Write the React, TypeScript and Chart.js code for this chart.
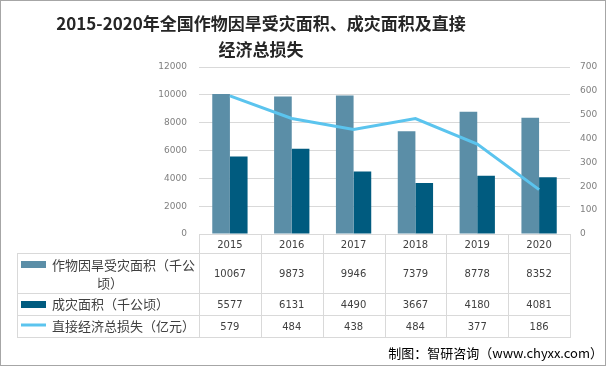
import React, { useEffect, useRef } from "react";
import { Chart, registerables } from "chart.js";
Chart.register(...registerables);

const years = ["2015", "2016", "2017", "2018", "2019", "2020"];
const droughtArea = [10067, 9873, 9946, 7379, 8778, 8352];
const disasterArea = [5577, 6131, 4490, 3667, 4180, 4081];
const economicLoss = [579, 484, 438, 484, 377, 186];
const seriesNames = ["作物因旱受灾面积（千公顷）", "成灾面积（千公顷）", "直接经济总损失（亿元）"];
const titleLines = ["2015-2020年全国作物因旱受灾面积、成灾面积及直接", "经济总损失"];
const sourceText = "制图：智研咨询（www.chyxx.com）";

const C_BAR1 = "#5B8EA7";
const C_BAR2 = "#005B7F";
const C_LINE = "#5BC4EE";
const GRID = "#D9D9D9";
const CJK = "'Noto Sans CJK SC', sans-serif";
const NUM = "'DejaVu Sans', sans-serif";

const overlay = {
  id: "overlay",
  beforeDraw(chart: any) {
    const ctx = chart.ctx;
    ctx.save();
    ctx.fillStyle = "#ffffff";
    ctx.fillRect(0, 0, chart.width, chart.height);
    ctx.restore();
  },
  afterDraw(chart: any) {
    const ctx = chart.ctx;
    const area = chart.chartArea;
    const xs = chart.scales.x;
    const n = years.length;
    const colW = (area.right - area.left) / n;
    ctx.save();
    // title
    ctx.fillStyle = "#262626";
    ctx.font = "bold 17px " + CJK;
    ctx.textAlign = "center";
    ctx.textBaseline = "middle";
    ctx.fillText(titleLines[0], 261, 24);
    ctx.fillText(titleLines[1], 261, 50);

    // table geometry
    const tLeft = 17;
    const top = Math.round(area.bottom);
    const rows = [top, 253, 293, 315, 337];
    ctx.strokeStyle = GRID;
    ctx.lineWidth = 1;
    ctx.beginPath();
    for (let i = 0; i <= n; i++) {
      const x = Math.round(area.left + i * colW) + 0.5;
      ctx.moveTo(x, rows[0]);
      ctx.lineTo(x, rows[4]);
    }
    ctx.moveTo(tLeft + 0.5, rows[1]);
    ctx.lineTo(tLeft + 0.5, rows[4]);
    for (let r = 1; r <= 4; r++) {
      ctx.moveTo(tLeft, rows[r] + 0.5);
      ctx.lineTo(Math.round(area.right) + 1, rows[r] + 0.5);
    }
    ctx.stroke();

    // year headers and values
    ctx.fillStyle = "#404040";
    ctx.font = "10px " + NUM;
    ctx.textAlign = "center";
    const series = [droughtArea, disasterArea, economicLoss];
    const valueY = [274, 305, 327];
    for (let i = 0; i < n; i++) {
      const cx = xs.getPixelForValue(i);
      ctx.fillText(years[i], cx, 245);
      for (let s = 0; s < 3; s++) {
        ctx.fillText(String(series[s][i]), cx, valueY[s]);
      }
    }

    // legend labels
    ctx.font = "13px " + CJK;
    ctx.textAlign = "left";
    ctx.fillStyle = "#404040";
    const maxW = 146;
    const name0 = seriesNames[0];
    let line1 = "";
    let k = 0;
    while (k < name0.length && ctx.measureText(line1 + name0[k]).width <= maxW) {
      line1 += name0[k];
      k++;
    }
    const line2 = name0.slice(k);
    ctx.fillStyle = C_BAR1;
    ctx.fillRect(21, 261, 25, 7);
    ctx.fillStyle = "#404040";
    ctx.fillText(line1, 52, 265);
    ctx.fillText(line2, 97, 283);
    // row 2
    ctx.fillStyle = C_BAR2;
    ctx.fillRect(21, 301, 25, 7);
    ctx.fillStyle = "#404040";
    ctx.fillText(seriesNames[1], 52, 304);
    // row 3
    ctx.strokeStyle = C_LINE;
    ctx.lineWidth = 3;
    ctx.beginPath();
    ctx.moveTo(21, 325);
    ctx.lineTo(46, 325);
    ctx.stroke();
    ctx.fillText(seriesNames[2], 52, 326);

    // source
    ctx.fillStyle = "#000000";
    ctx.font = "13px " + CJK;
    ctx.textAlign = "right";
    ctx.fillText(sourceText, 603, 353);

    // frame
    ctx.strokeStyle = "#A6A6A6";
    ctx.lineWidth = 1;
    ctx.strokeRect(0.5, 0.5, chart.width - 1, chart.height - 1);
    ctx.restore();
  },
};

export default function App() {
  const ref = useRef<HTMLCanvasElement>(null);
  useEffect(() => {
    document.body.style.margin = "0";
    const chart = new Chart(ref.current as HTMLCanvasElement, {
      type: "bar",
      data: {
        labels: years,
        datasets: [
          {
            type: "line",
            label: seriesNames[2],
            data: economicLoss,
            borderColor: C_LINE,
            backgroundColor: C_LINE,
            borderWidth: 3,
            pointRadius: 0,
            tension: 0,
            yAxisID: "y1",
            order: 0,
          } as any,
          {
            label: seriesNames[0],
            data: droughtArea,
            backgroundColor: C_BAR1,
            yAxisID: "y",
            order: 1,
            categoryPercentage: 0.571,
            barPercentage: 1,
          },
          {
            label: seriesNames[1],
            data: disasterArea,
            backgroundColor: C_BAR2,
            yAxisID: "y",
            order: 1,
            categoryPercentage: 0.571,
            barPercentage: 1,
          },
        ],
      },
      options: {
        responsive: false,
        animation: false,
        devicePixelRatio: 1,
        layout: { padding: { top: 67, bottom: 132, left: 0, right: 0 } },
        plugins: { legend: { display: false }, tooltip: { enabled: false }, title: { display: false } },
        scales: {
          x: { display: false, offset: true },
          y: {
            position: "left",
            min: 0,
            max: 12000,
            ticks: {
              stepSize: 2000,
              padding: 12,
              color: "#7F7F7F",
              font: { family: NUM, size: 9 },
              callback: (v: any) => String(v),
            },
            grid: { color: GRID, drawTicks: false },
            border: { display: false },
            afterFit: (s: any) => { s.width = 199; },
          },
          y1: {
            position: "right",
            min: 0,
            max: 700,
            ticks: {
              stepSize: 100,
              padding: 10,
              color: "#7F7F7F",
              font: { family: NUM, size: 9 },
              callback: (v: any) => String(v),
            },
            grid: { display: false, drawTicks: false },
            border: { display: false },
            afterFit: (s: any) => { s.width = 36; },
          },
        },
      },
      plugins: [overlay],
    });
    return () => chart.destroy();
  }, []);
  return <canvas ref={ref} width={606} height={366} style={{ display: "block" }} />;
}
